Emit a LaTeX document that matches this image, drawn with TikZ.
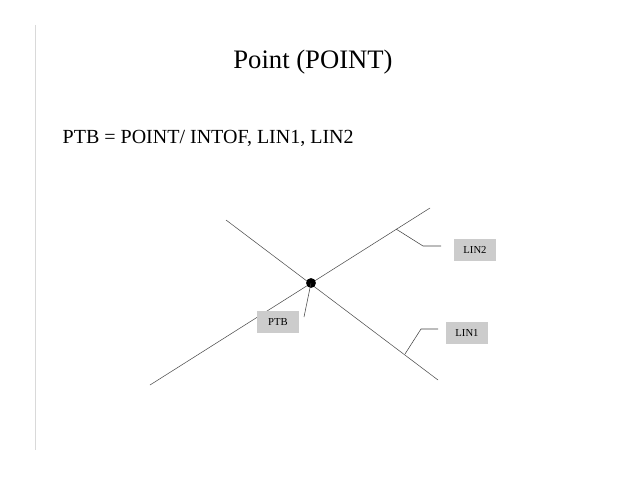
\documentclass[tikz,border=0pt]{standalone}
\usepackage{fontspec}
\setmainfont{Liberation Serif}
\tikzset{ligne/.style={
    draw=black!70}}
\tikzset{etiq/.style={
    fill=black!20,
    font=\fontsize{8}{9}\selectfont,
    minimum width=32pt,
    minimum height=16pt,
    inner sep=1pt}}
\tikzset{renvoi/.style={
    draw=black!75}}

\begin{document}
\begin{tikzpicture}[x=0.75pt,y=-0.75pt]
  \useasboundingbox (0,0) rectangle (638,478);
\draw[black!15] (35,25) -- (35,450);

\node (titre) at (313,62) {\fontsize{20}{24}\selectfont Point (POINT)};
\node[anchor=west] (syntaxe) at (58,138) {\fontsize{15}{18}\selectfont PTB = POINT/ INTOF, LIN1, LIN2};

\coordinate (L1a) at (226,220);
\coordinate (L1b) at (438,380);
\coordinate (L2a) at (150,385);
\coordinate (L2b) at (430,208);
\draw[ligne] (L1a) -- (L1b);
\draw[ligne] (L2a) -- (L2b);
\fill (311,283) circle (3.7pt) coordinate (ptb);

\node[etiq] (lin2) at (475,250) {LIN2};
\node[etiq] (lin1) at (467,333) {LIN1};
\node[etiq] (ptbl) at (278,322) {PTB};

\coordinate (p2) at (396,229);
\coordinate (p1) at (405,354);
\draw[renvoi] (p2) -- (423,246) -- (441,246);
\draw[renvoi] (p1) -- (421,329) -- (438,329);
\draw[renvoi] (ptb) -- (304,317);
\end{tikzpicture}
\end{document}
